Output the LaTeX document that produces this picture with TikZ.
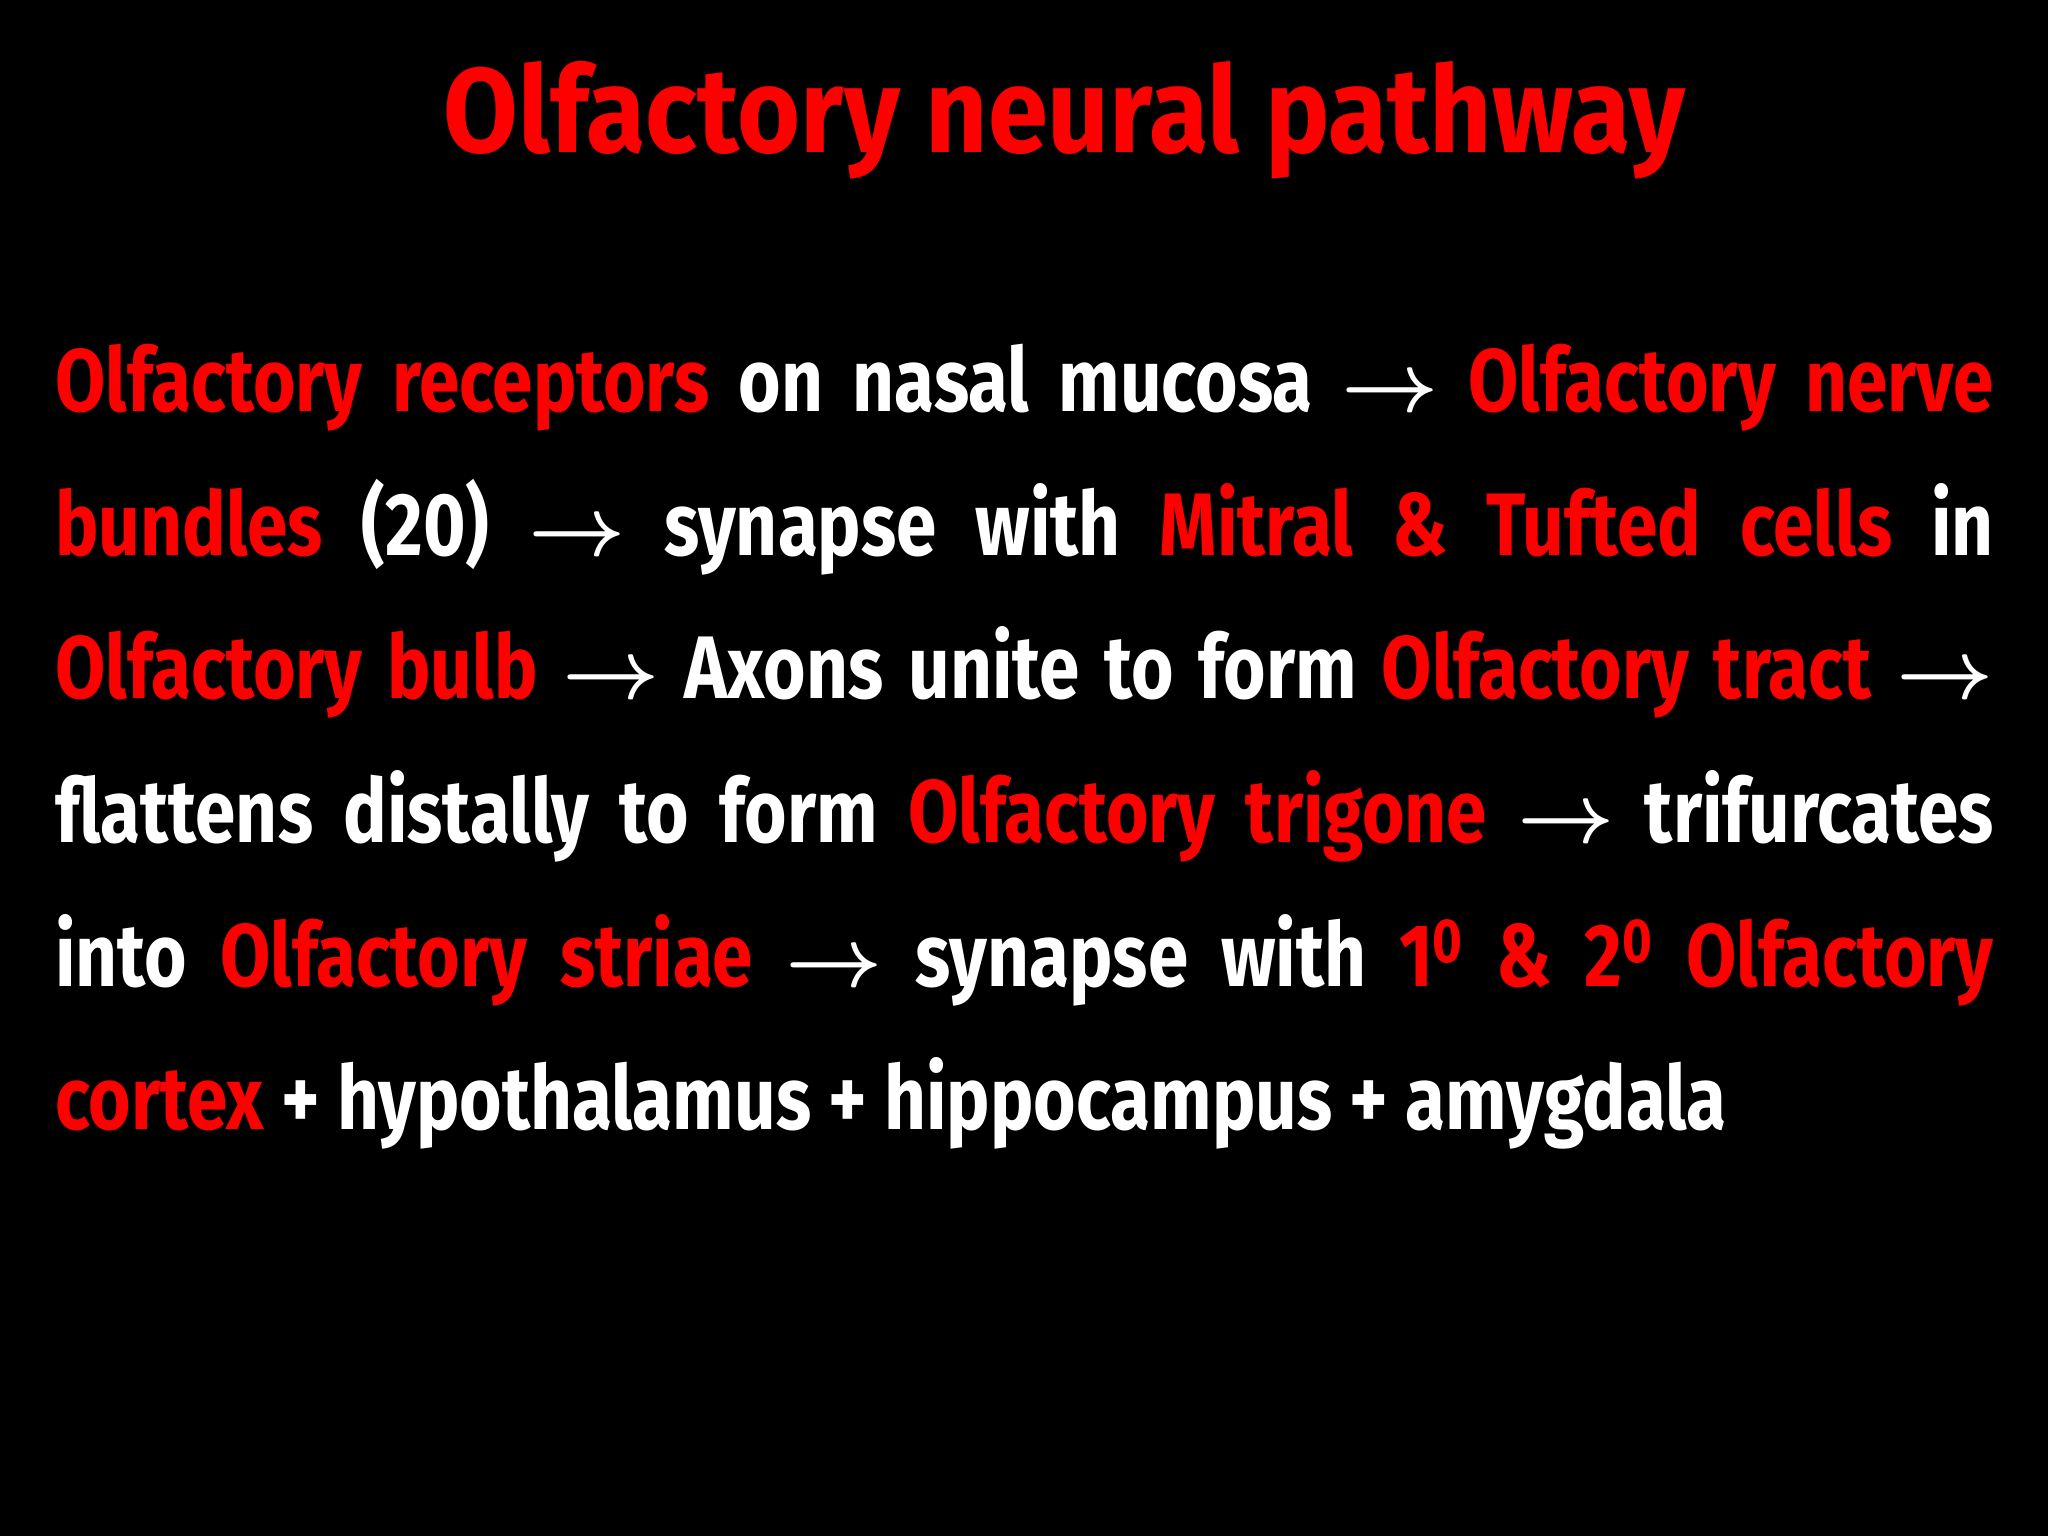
\documentclass[tikz,border=0pt]{standalone}
\usepackage{fontspec}
\setmainfont{Fira Sans}[FakeStretch=0.82]
\definecolor{rd}{RGB}{255,0,0}
\newcommand{\R}[1]{\textcolor{rd}{#1}}
\newcommand{\ar}{\scalebox{1.3}{\boldmath$\rightarrow$}}
\begin{document}
\begin{tikzpicture}[x=0.5pt,y=-0.5pt,
  line/.style={anchor=base west,inner sep=0pt,text=white,font=\bfseries\fontsize{34}{40}\selectfont}]
\fill[black] (0,0) rectangle (1568,1176);
\node[anchor=base,inner sep=0pt,text=rd,font=\bfseries\fontsize{46}{54}\selectfont] (title) at (815,117) {\addfontfeature{FakeStretch=0.9}Olfactory neural pathway};
\node[line] (l1) at (42,315) {\makebox[742pt][s]{\R{Olfactory receptors} on nasal mucosa \ar{} \R{Olfactory nerve}}};
\node[line] (l2) at (42,425) {\makebox[742pt][s]{\R{bundles} (20) \ar{} synapse with \R{Mitral \& Tufted cells} in}};
\node[line] (l3) at (42,535) {\makebox[742pt][s]{\R{Olfactory bulb} \ar{} Axons unite to form \R{Olfactory tract} \ar}};
\node[line] (l4) at (42,645) {\makebox[742pt][s]{flattens distally to form \R{Olfactory trigone} \ar{} trifurcates}};
\node[line] (l5) at (42,755) {\makebox[742pt][s]{into \R{Olfactory striae} \ar{} synapse with \R{1\textsuperscript{0} \& 2\textsuperscript{0} Olfactory}}};
\node[line] (l6) at (42,865) {\R{cortex} + hypothalamus + hippocampus + amygdala};
\end{tikzpicture}
\end{document}
